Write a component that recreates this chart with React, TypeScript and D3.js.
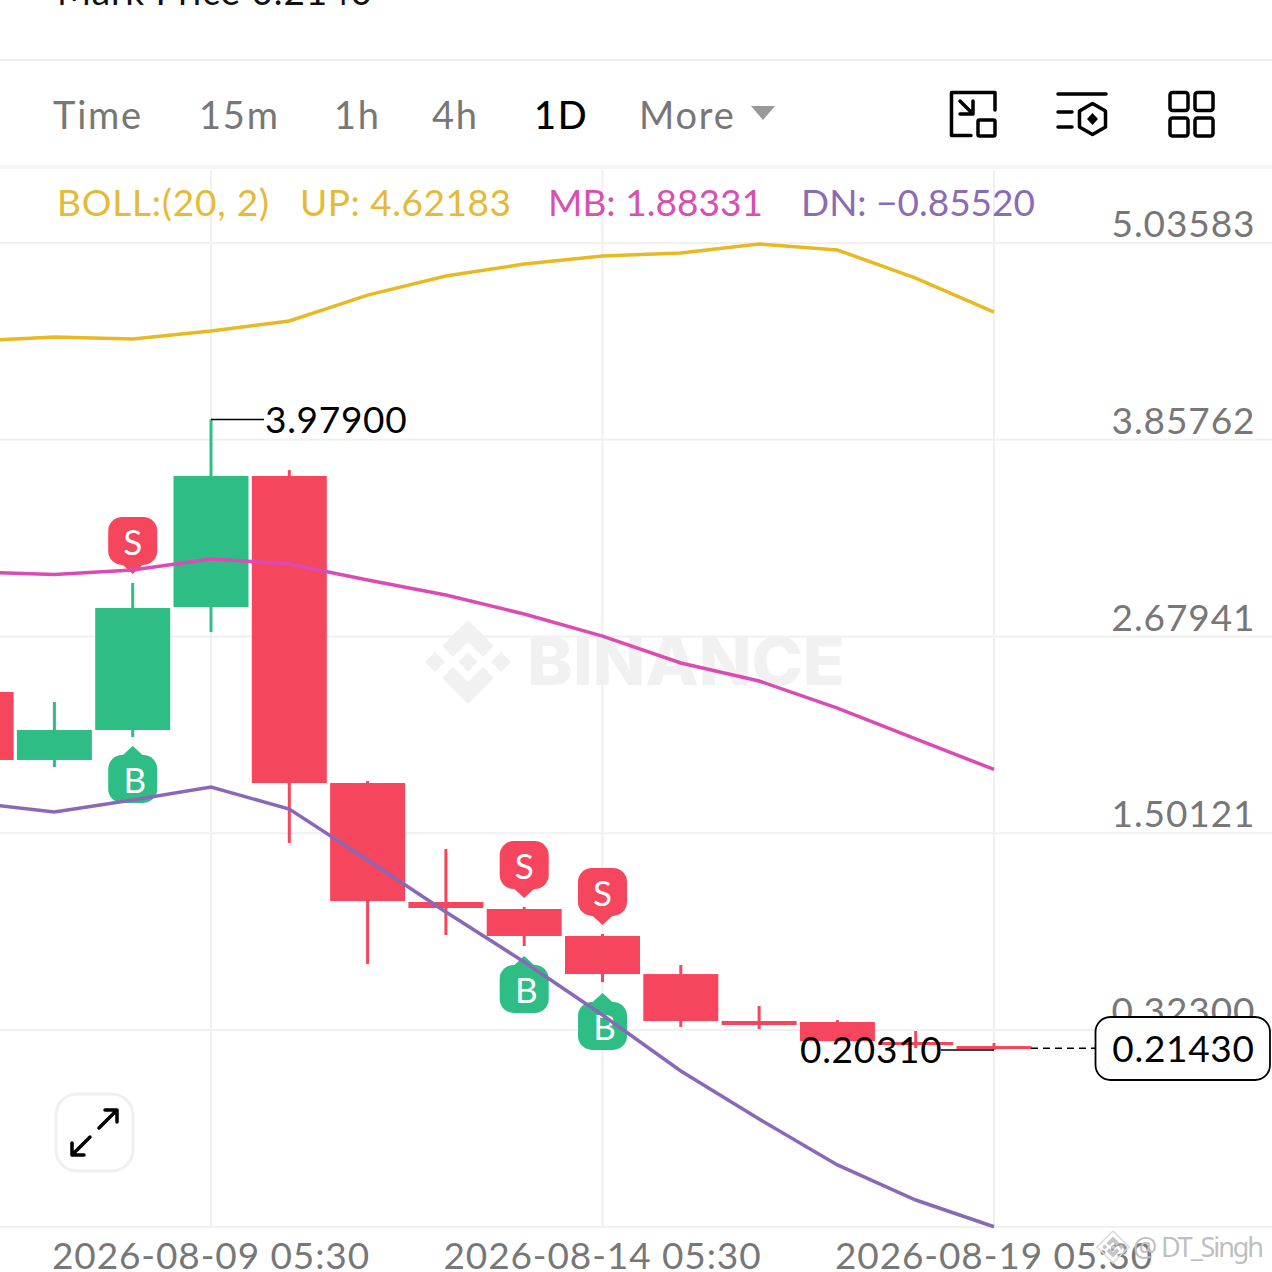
import * as d3 from "d3";

const days = ["2026-08-06", "2026-08-07", "2026-08-08", "2026-08-09", "2026-08-10", "2026-08-11", "2026-08-12", "2026-08-13", "2026-08-14", "2026-08-15", "2026-08-16", "2026-08-17", "2026-08-18", "2026-08-19"];
const opens = [2.347, 1.94, 2.1195, 2.856, 3.6405, 1.802, 1.0895, 1.0476, 0.886, 0.658, 0.377, 0.371, 0.251, 0.227];
const closes = [1.94, 2.1195, 2.85, 3.6405, 1.802, 1.0955, 1.0536, 0.886, 0.658, 0.377, 0.353, 0.257, 0.233, 0.2143];
const highs = [2.4, 2.287, 3.0, 3.979, 3.676, 1.814, 1.407, 1.06, 0.898, 0.712, 0.467, 0.383, 0.317, 0.245];
const lows = [1.92, 1.898, 2.0776, 2.706, 1.443, 0.718, 0.892, 0.826, 0.61, 0.341, 0.329, 0.257, 0.215, 0.2031];

const upBand = [4.449, 4.473, 4.461, 4.509, 4.569, 4.724, 4.838, 4.91, 4.958, 4.976, 5.03, 4.994, 4.826, 4.62183];
const midBand = [3.066, 3.051, 3.078, 3.143, 3.114, 3.018, 2.928, 2.814, 2.682, 2.521, 2.413, 2.251, 2.066, 1.88331];
const downBand = [1.682, 1.628, 1.7, 1.778, 1.646, 1.341, 1.03, 0.73, 0.413, 0.0775, -0.21, -0.485, -0.695, -0.8552];

const priceTicks = [5.03583, 3.85762, 2.67941, 1.50121, 0.323];
const dateTicks = ["2026-08-09", "2026-08-14", "2026-08-19"];
const tabs = ["Time", "15m", "1h", "4h", "1D", "More"];
const tabX = [53, 199, 334, 432, 534, 639];

const sellSignals = [
  { day: "2026-08-08", price: 3.054 },
  { day: "2026-08-13", price: 1.113 },
  { day: "2026-08-14", price: 0.952 },
];
const buySignals = [
  { day: "2026-08-08", price: 2.024 },
  { day: "2026-08-13", price: 0.766 },
  { day: "2026-08-14", price: 0.545 },
];

const GREEN = "#2EBD85";
const RED = "#F6465D";
const GRID = "#F0F0F0";
const GREY = "#777777";
const FONT = "Lato, 'Open Sans', sans-serif";

const parseDay = (s: string) => new Date(`${s}T00:00:00Z`);
const fmt5 = d3.format(".5f");

function Signal({ x, y, kind }: { x: number; y: number; kind: "S" | "B" }) {
  // tip of the marker sits on (x, y), the body goes up for S and down for B
  const dir = kind === "S" ? -1 : 1;
  const top = kind === "S" ? y - 57 : y + 9;
  const color = kind === "S" ? RED : GREEN;
  return (
    <g>
      <rect x={x - 24.5} y={top} width={49} height={48} rx={14} fill={color} />
      <path d={`M${x} ${y}L${x - 12} ${y + dir * 11}L${x + 12} ${y + dir * 11}Z`} fill={color} />
      <text x={kind === "B" ? x + 2 : x} y={top + 38} textAnchor="middle" fontSize={35} fill="#fff">
        {kind}
      </text>
    </g>
  );
}

function BinanceMark({ x, y, s, fill }: { x: number; y: number; s: number; fill: string }) {
  return (
    <g transform={`translate(${x},${y}) scale(${s})`} fill={fill}>
      <path d="M0 -42L26 -16L15 -5L0 -20L-15 -5L-26 -16Z" />
      <path d="M0 42L26 16L15 5L0 20L-15 5L-26 16Z" />
      <path d="M0 -10L10 0L0 10L-10 0Z" />
      <path d="M-33 -10L-23 0L-33 10L-43 0Z" />
      <path d="M33 -10L43 0L33 10L23 0Z" />
    </g>
  );
}

export default function App() {
  const x = d3
    .scaleUtc()
    .domain([parseDay("2026-08-09"), parseDay("2026-08-19")])
    .range([211, 994]);
  const y = d3
    .scaleLinear()
    .domain([0.323, 5.03583])
    .range([1030, 243]);
  const dayX = days.map((d) => x(parseDay(d)));
  const bandLine = d3
    .line<number>()
    .x((_, i) => dayX[i])
    .y((v) => y(v));
  const bodyWidth = 75;
  const lastClose = closes[closes.length - 1];

  return (
    <svg
      width={1272}
      height={1272}
      viewBox="0 0 1272 1272"
      style={{ position: "absolute", left: 0, top: 0, display: "block", background: "#fff" }}
      fontFamily={FONT}
    >
      <text x={57} y={5} fontSize={37} textLength={315} fill="#111">
        Mark Price 0.2140
      </text>
      <line x1={0} x2={1272} y1={60} y2={60} stroke={GRID} strokeWidth={2} />
      <line x1={0} x2={1272} y1={167} y2={167} stroke="#F5F5F5" strokeWidth={4} />

      {tabs.map((t, i) => (
        <text key={t} x={tabX[i]} y={129} fontSize={38} letterSpacing={1.8} fill={t === "1D" ? "#000" : GREY} fontWeight={t === "1D" ? 500 : 400}>
          {t}
        </text>
      ))}
      <path d="M751 106L775 106L763 120Z" fill="#999" />

      <g fill="none" stroke="#000" strokeWidth={3.5} strokeLinecap="round" strokeLinejoin="round">
        <path d="M995 110V92.5H951.5V135.5H971" />
        <rect x={978} y={120} width={17} height={16} rx={1.5} />
        <path d="M960 101L973 114M960 114H973V101" />
        <path d="M1058 94H1106M1058 112H1072M1058 127H1072" />
        <path d="M1092.5 103.5L1105.5 111V127L1092.5 134.5L1079.5 127V111Z" />
        <rect x={1170} y={92.5} width={18} height={18} rx={2.5} />
        <rect x={1195} y={92.5} width={18} height={18} rx={2.5} />
        <rect x={1170} y={118} width={18} height={18} rx={2.5} />
        <rect x={1195} y={118} width={18} height={18} rx={2.5} />
      </g>
      <path d="M1092.5 113L1098 119L1092.5 125L1087 119Z" fill="#000" />

      {/* grid */}
      {priceTicks.map((p) => (
        <line key={p} x1={0} x2={1272} y1={y(p)} y2={y(p)} stroke={GRID} strokeWidth={2} />
      ))}
      <line x1={0} x2={1272} y1={1227} y2={1227} stroke={GRID} strokeWidth={2} />
      {dateTicks.map((d) => (
        <line key={d} x1={x(parseDay(d))} x2={x(parseDay(d))} y1={170} y2={1227} stroke={GRID} strokeWidth={2} />
      ))}

      {/* watermark */}
      <BinanceMark x={468} y={662} s={1} fill="#F1F1F1" />
      <text x={527} y={685} fontSize={66} fontFamily="Inter, Lato, sans-serif" fontWeight={800} textLength={318} lengthAdjust="spacingAndGlyphs" fill="#F1F1F1">
        BINANCE
      </text>

      {/* candles */}
      {days.map((d, i) => {
        const color = closes[i] >= opens[i] ? GREEN : RED;
        const bodyTop = y(Math.max(opens[i], closes[i]));
        const bodyBottom = y(Math.min(opens[i], closes[i]));
        return (
          <g key={d} fill={color}>
            <rect x={dayX[i] - 1.5} width={3} y={y(highs[i])} height={y(lows[i]) - y(highs[i])} />
            <rect x={dayX[i] - bodyWidth / 2} width={bodyWidth} y={bodyTop} height={Math.max(bodyBottom - bodyTop, 3)} />
          </g>
        );
      })}

      {sellSignals.map((s) => (
        <Signal key={`s-${s.day}`} kind="S" x={x(parseDay(s.day))} y={y(s.price)} />
      ))}
      {buySignals.map((s) => (
        <Signal key={`b-${s.day}`} kind="B" x={x(parseDay(s.day))} y={y(s.price)} />
      ))}

      {/* boll */}
      <path d={bandLine(upBand) ?? ""} fill="none" stroke="#E8B923" strokeWidth={3.5} />
      <path d={bandLine(midBand) ?? ""} fill="none" stroke="#DB4BB4" strokeWidth={3.5} />
      <path d={bandLine(downBand) ?? ""} fill="none" stroke="#8A68B8" strokeWidth={3.5} />

      <g fontSize={37}>
        <text x={57} y={216} textLength={212} fill="#E6B937">BOLL:(20, 2)</text>
        <text x={300} y={216} textLength={211} fill="#E6B937">UP: {fmt5(upBand[13])}</text>
        <text x={548} y={216} textLength={215} fill="#D84FB0">MB: {fmt5(midBand[13])}</text>
        <text x={801} y={216} textLength={234} fill="#8C6BB5">DN: {fmt5(downBand[13])}</text>
      </g>

      {/* price axis */}
      <g fontSize={37} letterSpacing={0.9} fill={GREY} textAnchor="middle">
        {priceTicks.map((p) => (
          <text key={p} x={1183.5} y={y(p) - 6}>{fmt5(p)}</text>
        ))}
      </g>
      <g fontSize={37} letterSpacing={0.9} fill={GREY} textAnchor="middle">
        {dateTicks.map((d) => (
          <text key={d} x={x(parseDay(d))} y={1269}>{d} 05:30</text>
        ))}
      </g>

      {/* high / low labels */}
      <path d={`M${x(parseDay("2026-08-09"))} ${y(3.979)}H264`} stroke="#000" strokeWidth={1.5} fill="none" />
      <text x={265} y={y(3.979) + 14} fontSize={37} letterSpacing={0.7} fill="#000">{fmt5(3.979)}</text>
      <path d={`M941 ${y(0.2031)}H${x(parseDay("2026-08-19"))}`} stroke="#000" strokeWidth={1.5} fill="none" />
      <text x={800} y={y(0.2031) + 13} fontSize={37} letterSpacing={0.7} fill="#000">{fmt5(0.2031)}</text>

      {/* last price */}
      <line x1={1031} x2={1095} y1={y(lastClose)} y2={y(lastClose)} stroke="#000" strokeWidth={1.5} strokeDasharray="7 5" />
      <rect x={1095.5} y={1017} width={174.5} height={63} rx={15} fill="#fff" stroke="#000" strokeWidth={1.8} />
      <text x={1183.5} y={1062} fontSize={37} letterSpacing={0.7} fill="#000" textAnchor="middle">{fmt5(lastClose)}</text>

      {/* fullscreen button */}
      <rect x={56} y={1094} width={77} height={77} rx={21} fill="#fff" stroke={GRID} strokeWidth={3} />
      <g fill="none" stroke="#000" strokeWidth={3.5} strokeLinecap="round" strokeLinejoin="round">
        <path d="M99 1128L117 1110M105 1110H117V1122" />
        <path d="M90 1137L72 1155M84 1155H72V1143" />
      </g>

      {/* repost watermark */}
      <g>
        <path d="M1113 1231L1129 1247L1113 1263L1097 1247Z" fill="#fff" fillOpacity={0.25} stroke="#DADADA" strokeWidth={1.5} />
        <BinanceMark x={1113} y={1247} s={0.25} fill="#C4C4C4" />
        <text y={1257} fontSize={27} fontFamily="'Noto Sans', sans-serif" fill="#BFBFBF">
          <tspan x={1133}>@</tspan>
          <tspan x={1161} textLength={103}>DT_Singh</tspan>
        </text>
      </g>
    </svg>
  );
}
